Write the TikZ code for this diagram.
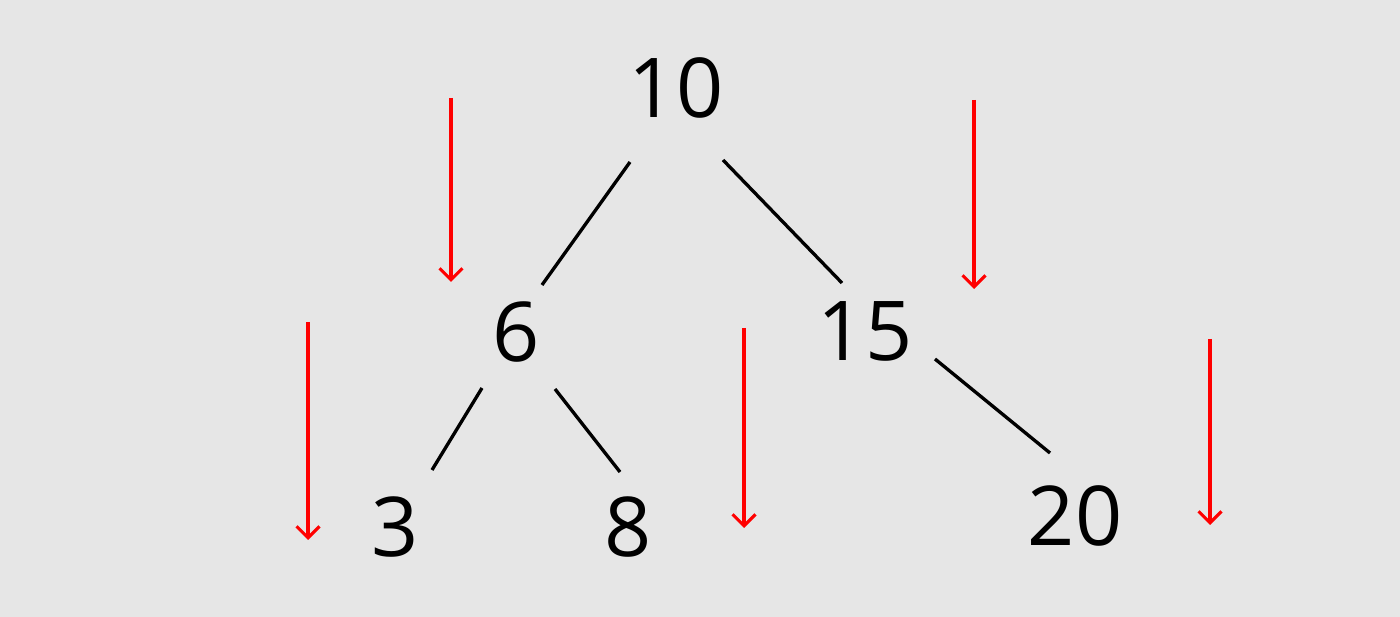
\documentclass[tikz,border=0pt]{standalone}
\usepackage{fontspec}
\setmainfont{Open Sans}
\usepackage{xcolor}
\usepackage{tikz}
\usetikzlibrary{arrows.meta}
\usetikzlibrary{calc}
\definecolor{fondo}{HTML}{E6E6E6}

\begin{document}
\begin{tikzpicture}[x=0.02cm, y=-0.02cm,
    num/.style={inner sep=0pt, font=\fontsize{47}{56}\selectfont},
    arista/.style={line width=1.9pt, black},
    flecha/.style={line width=1.8pt, red, -{Straight Barb[length=6.5pt, width=13pt]}}]
    % Fondo
    \fill[fondo] (0,0) rectangle (1400,617);
    \useasboundingbox (0,0) rectangle (1400,617);

    % Nodos del arbol
    \node[num] (diez) at (676,88) {10};
    \node[num] (seis) at (516,332) {6};
    \node[num] (quince) at (865,331) {15};
    \node[num] (tres) at (395,527) {3};
    \node[num] (ocho) at (628,527) {8};
    \node[num] (veinte) at (1075,516) {20};

    % Aristas
    \foreach \a/\p/\b/\q in {diez/{-46,74}/seis/{26,-47}, diez/{47,72}/quince/{-23,-48},
        seis/{-34,56}/tres/{37,-57}, seis/{39,57}/ocho/{-8,-55}, quince/{70,28}/veinte/{-25,-63}}
        \draw[arista] ($(\a)+(\p)$) -- ($(\b)+(\q)$);

    % Flechas rojas
    \foreach \x/\t/\b in {451/98/282, 974/100/289, 308/322/540, 744/328/528, 1210/339/525} {
        \coordinate (arriba\x) at (\x,\t);
        \coordinate (punta\x) at (\x,\b);
        \draw[flecha] (arriba\x) -- (punta\x);
    }
\end{tikzpicture}
\end{document}
